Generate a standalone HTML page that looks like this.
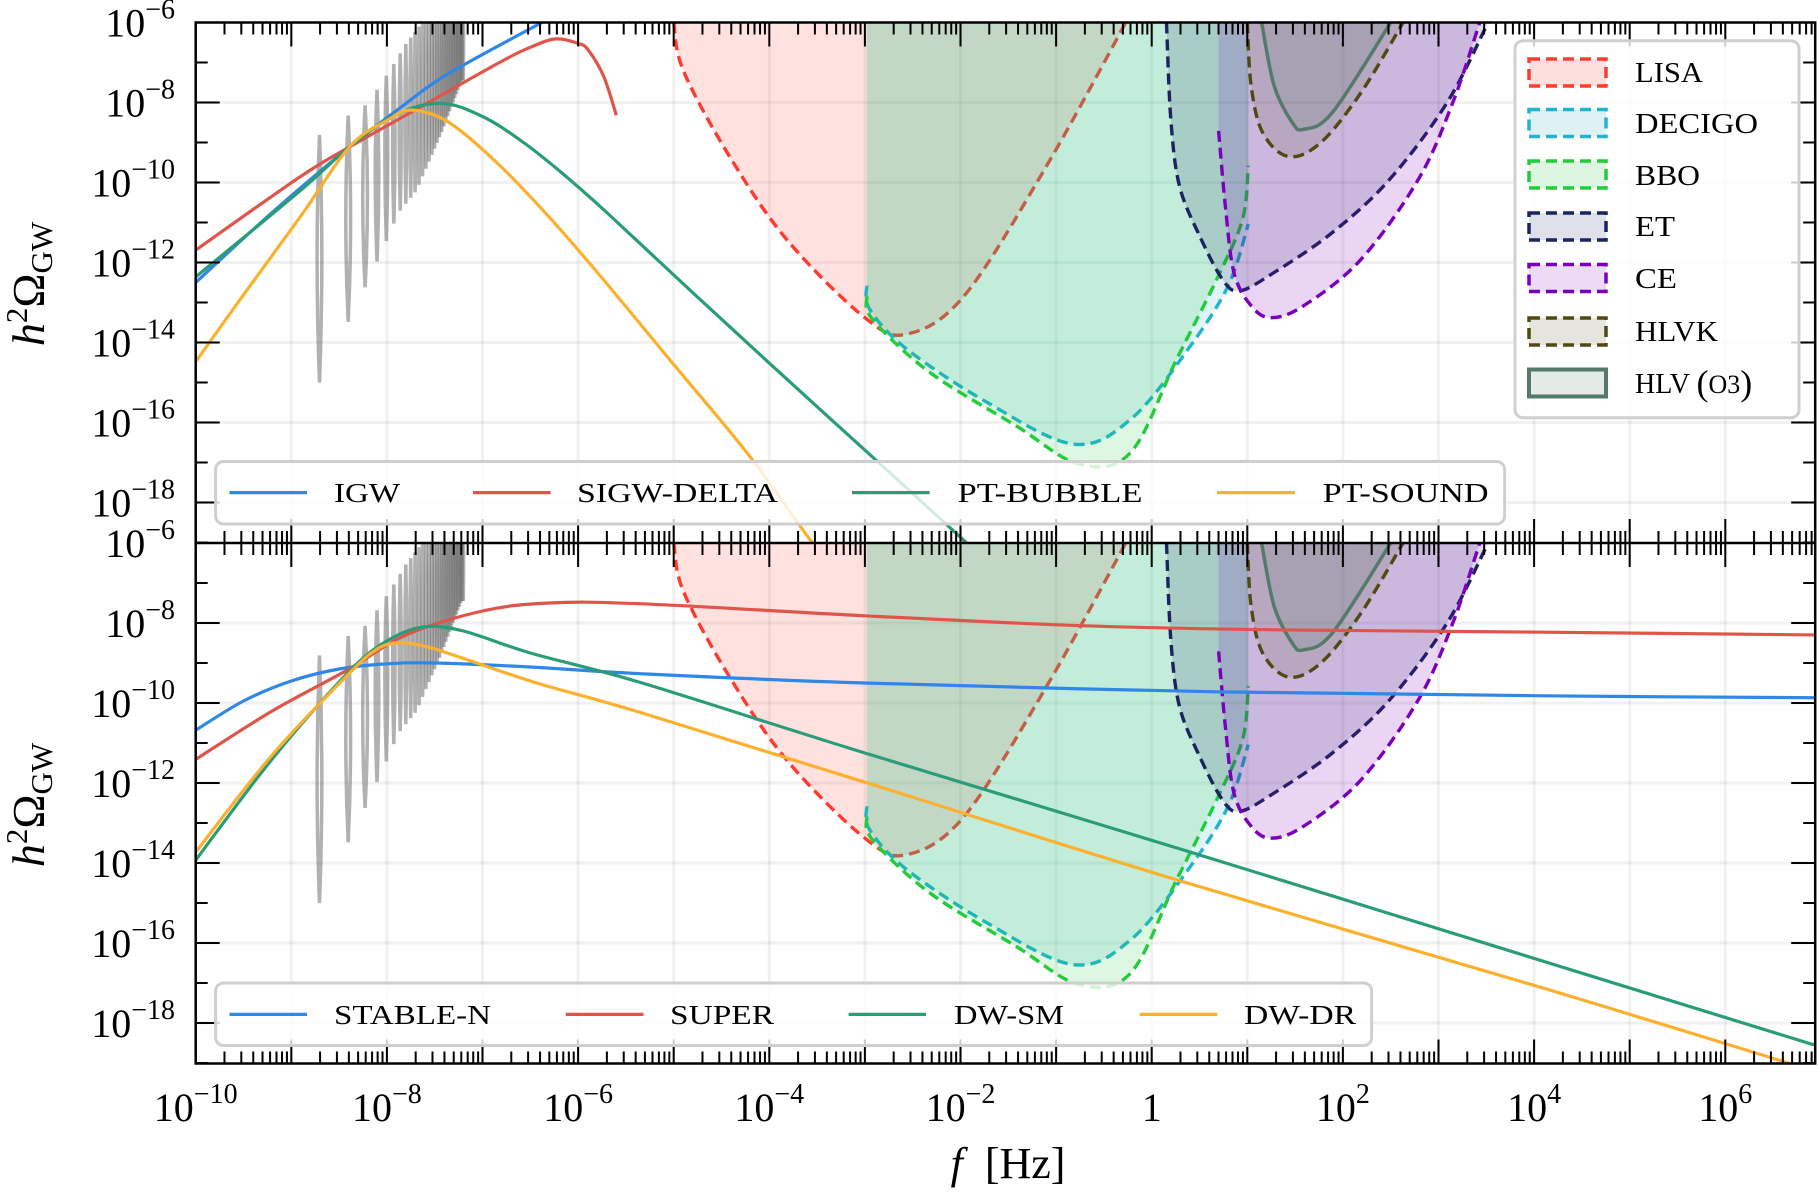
<!DOCTYPE html>
<html><head><meta charset="utf-8"><style>
html,body{margin:0;padding:0;background:#fff}
svg{display:block}
text{font-family:"Liberation Serif",serif;fill:#000}
</style></head><body>
<svg id="s" xmlns="http://www.w3.org/2000/svg" width="1818" height="1194" viewBox="0 0 1818 1194">
<defs>
<clipPath id="c0"><rect x="195.7" y="22.5" width="1619.5" height="520.5"/></clipPath>
<clipPath id="c1"><rect x="195.7" y="543" width="1619.5" height="520.5"/></clipPath>
</defs>
<g id="p0" clip-path="url(#c0)"></g>
<g id="p1" clip-path="url(#c1)"></g>
<g id="ticks" stroke="#000" stroke-width="2"></g>
<rect x="195.7" y="22.5" width="1619.5" height="1041" fill="none" stroke="#000" stroke-width="2.5"/>
<line x1="195.7" y1="543" x2="1815.2" y2="543" stroke="#000" stroke-width="2.5"/>

<!-- top legend -->
<rect x="215.6" y="461.5" width="1289" height="62.5" rx="8" fill="#fff" fill-opacity="0.8" stroke="#cfcfcf" stroke-width="3"/>
<g stroke-width="3.2">
<line x1="229.5" y1="492.6" x2="307" y2="492.6" stroke="#2f87e8"/>
<line x1="473" y1="492.6" x2="550.6" y2="492.6" stroke="#e0554a"/>
<line x1="852" y1="492.6" x2="929.6" y2="492.6" stroke="#2a9d78"/>
<line x1="1217" y1="492.6" x2="1295" y2="492.6" stroke="#fbb02e"/>
</g>
<g font-size="27">
<text x="334" y="502" textLength="66" lengthAdjust="spacingAndGlyphs">IGW</text>
<text x="577" y="502" textLength="201" lengthAdjust="spacingAndGlyphs">SIGW-DELTA</text>
<text x="957.5" y="502" textLength="185" lengthAdjust="spacingAndGlyphs">PT-BUBBLE</text>
<text x="1322.6" y="502" textLength="166" lengthAdjust="spacingAndGlyphs">PT-SOUND</text>
</g>

<!-- bottom legend -->
<rect x="215.6" y="983" width="1156" height="62.5" rx="8" fill="#fff" fill-opacity="0.8" stroke="#cfcfcf" stroke-width="3"/>
<g stroke-width="3.2">
<line x1="229.5" y1="1014.4" x2="307" y2="1014.4" stroke="#2f87e8"/>
<line x1="565.8" y1="1014.4" x2="643.5" y2="1014.4" stroke="#e0554a"/>
<line x1="848.6" y1="1014.4" x2="926" y2="1014.4" stroke="#2a9d78"/>
<line x1="1139.6" y1="1014.4" x2="1217.3" y2="1014.4" stroke="#fbb02e"/>
</g>
<g font-size="27">
<text x="334" y="1024" textLength="157" lengthAdjust="spacingAndGlyphs">STABLE-N</text>
<text x="670" y="1024" textLength="104" lengthAdjust="spacingAndGlyphs">SUPER</text>
<text x="954" y="1024" textLength="110" lengthAdjust="spacingAndGlyphs">DW-SM</text>
<text x="1244" y="1024" textLength="112" lengthAdjust="spacingAndGlyphs">DW-DR</text>
</g>

<!-- right legend -->
<rect x="1515" y="40.7" width="284" height="377" rx="8" fill="#fff" fill-opacity="0.8" stroke="#cfcfcf" stroke-width="3"/>
<g stroke-width="3.5" stroke-dasharray="11 6">
<rect x="1529" y="59" width="77" height="27" fill="#fde0dd" stroke="#ff3b2f"/>
<rect x="1529" y="109.5" width="77" height="27" fill="#def2f6" stroke="#22b4cc"/>
<rect x="1529" y="161" width="77" height="27" fill="#def5df" stroke="#22cc3c"/>
<rect x="1529" y="213" width="77" height="27" fill="#dfe0ea" stroke="#1c2360"/>
<rect x="1529" y="264.5" width="77" height="27" fill="#ecdcf3" stroke="#7a00bb"/>
<rect x="1529" y="318" width="77" height="27" fill="#e5e5dd" stroke="#4d4a12"/>
</g>
<rect x="1529" y="369.5" width="77" height="27" fill="#e4ebe7" stroke="#557a6a" stroke-width="4"/>
<g font-size="28">
<text x="1635" y="82" textLength="68" lengthAdjust="spacingAndGlyphs">LISA</text>
<text x="1635" y="133" textLength="123" lengthAdjust="spacingAndGlyphs">DECIGO</text>
<text x="1635" y="185" textLength="65" lengthAdjust="spacingAndGlyphs">BBO</text>
<text x="1635" y="236" textLength="40" lengthAdjust="spacingAndGlyphs">ET</text>
<text x="1635" y="288" textLength="42" lengthAdjust="spacingAndGlyphs">CE</text>
<text x="1635" y="341" textLength="83" lengthAdjust="spacingAndGlyphs">HLVK</text>
<text x="1635" y="393">HLV <tspan font-size="36" dy="2">(</tspan><tspan font-size="26" dy="-2">O3</tspan><tspan font-size="36" dy="2">)</tspan></text>
</g>

<!-- y tick labels -->
<g font-size="40" text-anchor="end">
<text x="175" y="36.5">10<tspan font-size="28" dy="-18">−6</tspan></text>
<text x="175" y="116.5">10<tspan font-size="28" dy="-18">−8</tspan></text>
<text x="175" y="196.5">10<tspan font-size="28" dy="-18">−10</tspan></text>
<text x="175" y="276.5">10<tspan font-size="28" dy="-18">−12</tspan></text>
<text x="175" y="356.5">10<tspan font-size="28" dy="-18">−14</tspan></text>
<text x="175" y="436.5">10<tspan font-size="28" dy="-18">−16</tspan></text>
<text x="175" y="516.5">10<tspan font-size="28" dy="-18">−18</tspan></text>
<text x="175" y="557">10<tspan font-size="28" dy="-18">−6</tspan></text>
<text x="175" y="637">10<tspan font-size="28" dy="-18">−8</tspan></text>
<text x="175" y="717">10<tspan font-size="28" dy="-18">−10</tspan></text>
<text x="175" y="797">10<tspan font-size="28" dy="-18">−12</tspan></text>
<text x="175" y="877">10<tspan font-size="28" dy="-18">−14</tspan></text>
<text x="175" y="957">10<tspan font-size="28" dy="-18">−16</tspan></text>
<text x="175" y="1037">10<tspan font-size="28" dy="-18">−18</tspan></text>
</g>
<!-- x tick labels -->
<g font-size="40" text-anchor="middle">
<text x="195.7" y="1121">10<tspan font-size="28" dy="-18">−10</tspan></text>
<text x="386.9" y="1121">10<tspan font-size="28" dy="-18">−8</tspan></text>
<text x="578.1" y="1121">10<tspan font-size="28" dy="-18">−6</tspan></text>
<text x="769.3" y="1121">10<tspan font-size="28" dy="-18">−4</tspan></text>
<text x="960.5" y="1121">10<tspan font-size="28" dy="-18">−2</tspan></text>
<text x="1151.7" y="1121">1</text>
<text x="1342.9" y="1121">10<tspan font-size="28" dy="-18">2</tspan></text>
<text x="1534.1" y="1121">10<tspan font-size="28" dy="-18">4</tspan></text>
<text x="1725.3" y="1121">10<tspan font-size="28" dy="-18">6</tspan></text>
</g>
<!-- axis titles -->
<text x="1008" y="1178" font-size="44" text-anchor="middle" xml:space="preserve"><tspan font-style="italic">f</tspan>  [Hz]</text>
<text transform="translate(44,284) rotate(-90)" font-size="46" text-anchor="middle"><tspan font-style="italic">h</tspan><tspan font-size="31" dy="-17">2</tspan><tspan dy="17">Ω</tspan><tspan font-size="31" dy="8">GW</tspan></text>
<text transform="translate(44,805) rotate(-90)" font-size="46" text-anchor="middle"><tspan font-style="italic">h</tspan><tspan font-size="31" dy="-17">2</tspan><tspan dy="17">Ω</tspan><tspan font-size="31" dy="8">GW</tspan></text>
</svg>
<script>
(function(){
var NS="http://www.w3.org/2000/svg";
function X(l){return 195.7+(l+10)*95.6;}
function Y(l,p){return 22.5+p*520.5+(-6-l)*40;}
function el(t,a,par){var e=document.createElementNS(NS,t);for(var k in a)e.setAttribute(k,a[k]);par.appendChild(e);return e;}
function pix(pts,p){return pts.map(function(q){return [X(q[0]),Y(q[1],p)];});}
function cr(P){var d="M"+P[0][0].toFixed(1)+","+P[0][1].toFixed(1);
 for(var i=0;i<P.length-1;i++){var p0=P[i-1]||P[i],p1=P[i],p2=P[i+1],p3=P[i+2]||P[i+1];
 var c1=[p1[0]+(p2[0]-p0[0])/6,p1[1]+(p2[1]-p0[1])/6],c2=[p2[0]-(p3[0]-p1[0])/6,p2[1]-(p3[1]-p1[1])/6];
 d+="C"+c1[0].toFixed(1)+","+c1[1].toFixed(1)+" "+c2[0].toFixed(1)+","+c2[1].toFixed(1)+" "+p2[0].toFixed(1)+","+p2[1].toFixed(1);}
 return d;}
function interp(tab,x){if(x<=tab[0][0])return tab[0][1];for(var i=0;i<tab.length-1;i++){if(x<=tab[i+1][0]){var t=(x-tab[i][0])/(tab[i+1][0]-tab[i][0]);return tab[i][1]+t*(tab[i+1][1]-tab[i][1]);}}return tab[tab.length-1][1];}

var det=[
 {c:"#ff3b2f",f:"rgba(255,59,47,0.15)",pts:[[-5.0,-6],[-4.9,-7.2],[-4.42,-9.33],[-3.82,-11.42],[-3,-13.38],[-2.56,-13.79],[-1.96,-12.83],[-1.12,-9.67],[-0.28,-6.04],[-0.26,-5.9]]},
 {c:"#22b4cc",f:"rgba(34,180,204,0.15)",pts:[[-2.98,-12.58],[-2.95,-13.17],[-2.56,-14.17],[-1.72,-15.5],[-0.82,-16.54],[-0.22,-15.92],[0.38,-14.17],[0.8,-12.58],[1.01,-11.04]]},
 {c:"#22cc3c",f:"rgba(34,204,60,0.15)",pts:[[-2.98,-12.85],[-2.92,-13.42],[-2.32,-14.75],[-1.42,-16.08],[-0.76,-17.04],[-0.22,-16.75],[0.26,-14.42],[0.68,-12.42],[0.95,-10.92],[1.01,-9.58]]},
 {c:"#1c2360",f:"rgba(28,35,96,0.16)",pts:[[0.155,-6],[0.2,-8.42],[0.29,-10.08],[0.5,-11.33],[0.74,-12.42],[0.92,-12.71],[1.28,-12.25],[1.89,-11.25],[2.49,-9.92],[3.09,-8.0],[3.51,-6.04],[3.53,-5.9]]},
 {c:"#7a00bb",f:"rgba(122,0,187,0.16)",pts:[[0.70,-8.71],[0.77,-10.58],[0.86,-12.25],[1.04,-13.08],[1.25,-13.38],[1.59,-13.08],[2.19,-11.92],[2.79,-9.92],[3.15,-8.0],[3.42,-6.08],[3.45,-5.9]]},
 {c:"#4d4a12",f:"rgba(77,74,18,0.15)",pts:[[1.0,-6],[1.04,-7.58],[1.16,-8.75],[1.43,-9.35],[1.77,-9.0],[2.19,-7.75],[2.61,-6.08],[2.63,-5.95]]},
 {c:"#557a6a",f:"rgba(85,122,106,0.15)",solid:true,pts:[[1.15,-6],[1.28,-7.58],[1.47,-8.5],[1.59,-8.67],[1.89,-8.25],[2.49,-6.04],[2.5,-5.95]]}
];
var series=[
 [ // top
  {c:"#2f87e8",pts:[[-10,-12.5],[-9.2,-10.75],[-8.39,-9.11],[-7.87,-8.15],[-7.35,-7.27],[-6.38,-6.0],[-6.0,-5.5]]},
  {c:"#e0554a",pts:[[-10,-11.69],[-8.91,-9.86],[-8.39,-9.11],[-7.61,-8.06],[-6.83,-7.01],[-6.5,-6.62],[-6.23,-6.41],[-5.99,-6.53],[-5.89,-6.7],[-5.73,-7.36],[-5.60,-8.32]]},
  {c:"#2a9d78",pts:[[-10,-12.36],[-8.91,-10.21],[-8.39,-9.11],[-7.9,-8.3],[-7.43,-8.02],[-7.0,-8.35],[-6.6,-8.95],[-6.2,-9.7],[-5.7,-10.75],[-4.74,-12.89],[-3.70,-15.17],[-2.65,-17.45],[-1.3,-20.4]]},
  {c:"#fbb02e",pts:[[-10,-14.48],[-9.54,-12.94],[-8.91,-10.87],[-8.39,-9.11],[-8.0,-8.45],[-7.74,-8.19],[-7.35,-8.5],[-6.83,-9.55],[-6.30,-10.87],[-5.78,-12.3],[-5.0,-14.55],[-4.22,-16.8],[-3.57,-18.94],[-3.2,-20]]}
 ],
 [ // bottom
  {c:"#2f87e8",pts:[[-10,-10.68],[-9.5,-9.95],[-9,-9.45],[-8.5,-9.15],[-8,-9.02],[-7.5,-9.0],[-6.5,-9.1],[-5.33,-9.27],[-3,-9.5],[0.68,-9.72],[4.1,-9.82],[7,-9.87]]},
  {c:"#e0554a",pts:[[-10,-11.41],[-9.2,-10.2],[-8.41,-9.17],[-7.8,-8.3],[-7,-7.7],[-6.3,-7.5],[-5.33,-7.52],[-3,-7.82],[-0.7,-8.07],[1.28,-8.17],[4.1,-8.23],[7,-8.3]]},
  {c:"#2a9d78",pts:[[-10,-13.93],[-9.2,-11.4],[-8.41,-9.25],[-8.0,-8.45],[-7.62,-8.1],[-7.2,-8.2],[-6.5,-8.75],[-5.33,-9.5],[-3,-11.25],[0.38,-13.71],[4.1,-16.46],[7,-18.6]]},
  {c:"#fbb02e",pts:[[-10,-13.73],[-9.2,-11.3],[-8.41,-9.3],[-8.1,-8.65],[-7.86,-8.5],[-7.5,-8.65],[-6.5,-9.45],[-5.33,-10.25],[-3,-11.98],[0.26,-14.42],[4.1,-17.13],[7,-19.25]]}
 ]
];
var up=[[-8.70,-8.81],[-8.40,-8.32],[-8.22,-8.06],[-8.10,-7.67],[-7.93,-7.05],[-7.80,-6.53],[-7.6,-5.9],[-7.2,-5.5]];
var lo=[[-8.70,-15],[-8.40,-13.46],[-8.22,-12.58],[-8.10,-11.96],[-8.01,-11.48],[-7.93,-11.04],[-7.86,-10.7],[-7.69,-10.2],[-7.43,-8.76],[-7.22,-7.45]];

for(var p=0;p<2;p++){
 var g=document.getElementById("p"+p);
 var top=Y(-6,p);
 for(var d=-9;d<=6;d++) el("line",{x1:X(d),x2:X(d),y1:top,y2:top+520.5,stroke:"rgba(0,0,0,0.055)","stroke-width":3},g);
 for(var e=-8;e>=-18;e-=2) el("line",{x1:195.7,x2:1815.2,y1:Y(e,p),y2:Y(e,p),stroke:"rgba(0,0,0,0.055)","stroke-width":3},g);
 det.forEach(function(D){
  var P=pix(D.pts,p), d=cr(P);
  var last=P[P.length-1], first=P[0];
  el("path",{d:d+"L"+last[0].toFixed(1)+","+(top-5)+"L"+first[0].toFixed(1)+","+(top-5)+"Z",fill:D.f,stroke:"none"},g);
  var a={d:d,fill:"none",stroke:D.c,"stroke-width":D.solid?3.5:3.4};
  if(!D.solid)a["stroke-dasharray"]="11 6";
  el("path",a,g);
 });
 // PTA wiggles: lens-shaped spikes
 var f0=1.97e-9;
 for(var n=1;n<=32;n++){
  var lx=Math.log10(n*f0), sp=0.4343/n, w=Math.min(0.05,sp*0.35);
  var u=interp(up,lx), l=interp(lo,lx), m=(u+l)/2;
  var xa=X(lx), ya=Y(u,p), yb=Y(l,p), xm1=X(lx-w), xm2=X(lx+w), ym=Y(m,p);
  var dd="M"+xa.toFixed(1)+","+ya.toFixed(1)+"Q"+xm1.toFixed(1)+","+ym.toFixed(1)+" "+xa.toFixed(1)+","+yb.toFixed(1)+"Q"+xm2.toFixed(1)+","+ym.toFixed(1)+" "+xa.toFixed(1)+","+ya.toFixed(1);
  el("path",{d:dd,fill:"none",stroke:"rgba(100,100,100,0.5)","stroke-width":3.5},g);
 }
 series[p].forEach(function(S){el("path",{d:cr(pix(S.pts,p)),fill:"none",stroke:S.c,"stroke-width":3.2},g);});
}
var T=document.getElementById("ticks");
for(var p=0;p<2;p++){
 var y0=Y(-6,p), y1=y0+520.5;
 for(var d=-10;d<=6;d++){
  for(var k=1;k<=9;k++){
   var lx=d+Math.log10(k); if(lx>6.94)break;
   var L=(k==1)?24:12, x=X(lx);
   el("line",{x1:x,x2:x,y1:y0,y2:y0+L},T);
   el("line",{x1:x,x2:x,y1:y1,y2:y1-L},T);
  }
 }
 for(var e=-6;e>=-19;e--){
  var L=(e%2==0)?24:12, y=Y(e,p);
  el("line",{x1:195.7,x2:195.7+L,y1:y,y2:y},T);
  el("line",{x1:1815.2,x2:1815.2-L,y1:y,y2:y},T);
 }
}
})();
</script>
</body></html>
